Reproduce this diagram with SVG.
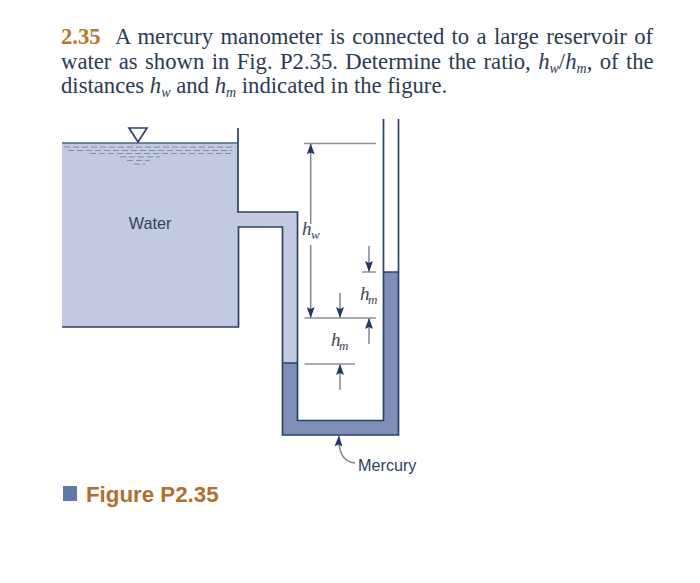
<svg xmlns="http://www.w3.org/2000/svg" width="700" height="583" viewBox="0 0 700 583">
<style>
.t{font-family:"Liberation Serif","Times New Roman",serif;font-size:22.7px;fill:#2b3a52}
.i{font-style:italic}
.sub{font-style:italic;font-size:14px}
.lab{font-family:"Liberation Sans",Arial,sans-serif;font-size:16.200px;fill:#2f4263}
.w{stroke:#2b4268;stroke-width:1.700;fill:none}
.d{stroke:#8b929c;stroke-width:1.500;fill:none}
.v{stroke:#7f8791;stroke-width:1.500;fill:none}
.h{font-family:"Liberation Serif",serif;font-style:italic;font-size:19px;fill:#3b4656}
.hs{font-family:"Liberation Serif",serif;font-style:italic;font-size:13px;fill:#3b4656}
.dash{stroke:#7f8ba8;stroke-width:1.200;stroke-dasharray:6 3;fill:none}
</style>
<defs>
<marker id="a" markerUnits="userSpaceOnUse" markerWidth="11" markerHeight="8" refX="10.500" refY="4" orient="auto" viewBox="0 0 11 8"><path d="M11 4 L0 8 L2 4 L0 0 Z" fill="#1f3a60"/></marker>
</defs>
<rect width="700" height="583" fill="#fff"/>
<g id="problem-text">
<text class="t" x="61" y="44" style="fill:#b5762f;font-weight:bold">2.35</text>
<text class="t" x="115" y="44" word-spacing="1.670">A mercury manometer is connected to a large reservoir of</text>
<text class="t" x="61" y="69" word-spacing="1.700">water as shown in Fig. P2.35. Determine the ratio, <tspan class="i">h</tspan><tspan class="sub" dy="4">w</tspan><tspan dy="-4">/</tspan><tspan class="i">h</tspan><tspan class="sub" dy="4">m</tspan><tspan dy="-4">, of the</tspan></text>
<text class="t" x="61" y="93">distances <tspan class="i">h</tspan><tspan class="sub" dy="4">w</tspan><tspan dy="-4"> and </tspan><tspan class="i">h</tspan><tspan class="sub" dy="4">m</tspan><tspan dy="-4"> indicated in the figure.</tspan></text>
</g>
<g id="reservoir">
<path d="M62 143H238V212H297V363H282V227H238V327H62Z" fill="#c3c9e0"/>
<path class="dash" d="M64 147H236M68 150.500H232M90 153.500H232M120 157H160M127 160.500H150M134 164H145"/>
<path d="M62 143H238" stroke="#4a6288" stroke-width="1.500"/>
<path class="w" d="M238 128V212H297.500V363M282.500 363V227H238.500V327H62"/>
<path d="M129 128H147L138 142Z" fill="#fff" stroke="#2b4268" stroke-width="1.700"/>
<text class="lab" x="150" y="229" text-anchor="middle">Water</text>
</g>
<g id="manometer">
<path d="M282.500 363H297.500V420.500H383.500V272H398.500V435H282.500Z" fill="#7d8fb6"/>
<path class="w" d="M297.500 363V420.500H383.500V119M398.500 119V435H282.500V363"/>
<path d="M282.500 363H297.500M383.500 272H398.500" stroke="#2b4268" stroke-width="1.500"/>
</g>
<g id="connectors">
<path class="d" d="M304 143.500H376M304.500 318H376M304.500 364H355M362 272H376"/>
<path class="v" d="M310.700 224V144" marker-end="url(#a)"/>
<path class="v" d="M310.700 245V317.500" marker-end="url(#a)"/>
<path class="v" d="M340 293V317.500" marker-end="url(#a)"/>
<path class="v" d="M340 390V364.500" marker-end="url(#a)"/>
<path class="v" d="M369 246V271.500" marker-end="url(#a)"/>
<path class="v" d="M369 344V318.500" marker-end="url(#a)"/>
<path class="v" d="M355 463C345 462 338 455 339 436" marker-end="url(#a)"/>
</g>
<g id="labels">
<text class="h" x="302" y="235">h</text><text class="hs" x="311" y="239">w</text>
<text class="h" x="360" y="300">h</text><text class="hs" x="368" y="304">m</text>
<text class="h" x="331" y="346">h</text><text class="hs" x="339" y="350">m</text>
<text class="lab" x="358" y="471">Mercury</text>
</g>
<g id="caption">
<rect x="63" y="486" width="14" height="15" fill="#5f7aa8"/>
<text x="86" y="502" font-family="Liberation Sans,Arial,sans-serif" font-size="22.300" font-weight="bold" fill="#b0702c">Figure P2.35</text>
</g>
</svg>
